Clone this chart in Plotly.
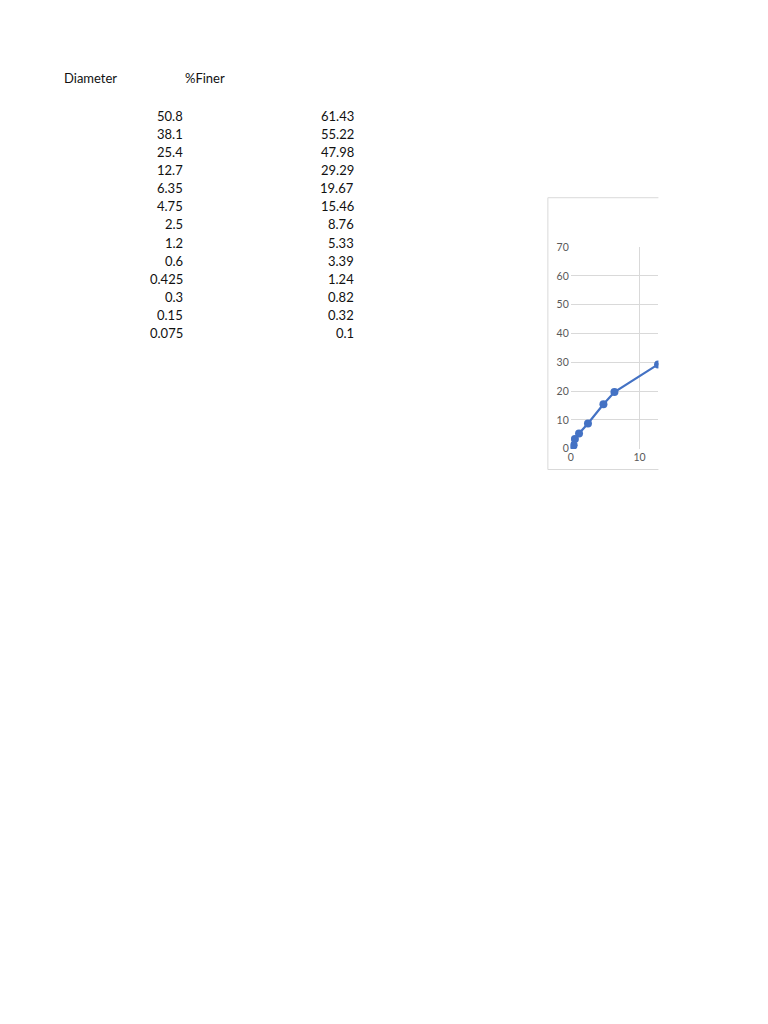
import plotly.graph_objects as go

# sieve data as printed on the sheet
diameter = [50.8, 38.1, 25.4, 12.7, 6.35, 4.75, 2.5, 1.2, 0.6, 0.425, 0.3, 0.15, 0.075]
diameter_labels = ["50.8", "38.1", "25.4", "12.7", "6.35", "4.75", "2.5", "1.2", "0.6", "0.425", "0.3", "0.15", "0.075"]
finer = [61.43, 55.22, 47.98, 29.29, 19.67, 15.46, 8.76, 5.33, 3.39, 1.24, 0.82, 0.32, 0.1]
finer_labels = ["61.43", "55.22", "47.98", "29.29", "19.67", "15.46", "8.76", "5.33", "3.39", "1.24", "0.82", "0.32", "0.1"]
headers = ["Diameter", "%Finer"]

W, H = 768, 1024
FONT = "Lato"


def px(x):
    return x / W


def py(y):
    return 1 - y / H


fig = go.Figure()
fig.add_trace(go.Scatter(
    x=diameter, y=finer, mode="lines+markers",
    line=dict(color="#4472C4", width=2.2),
    marker=dict(color="#4472C4", size=8),
    showlegend=False,
))

# sheet cells (nudged a few px to line up with the printout)
annotations = []
annotations.append(dict(x=px(59), y=py(73), text=headers[0], xanchor="left"))
annotations.append(dict(x=px(181), y=py(73), text=headers[1], xanchor="left"))
row_h = (335 - 115) / 12
for i in range(len(diameter_labels)):
    yy = py(111 + i * row_h)
    annotations.append(dict(x=px(183), y=yy, text=diameter_labels[i], xanchor="right"))
    annotations.append(dict(x=px(354), y=yy, text=finer_labels[i], xanchor="right"))
for a in annotations:
    a.update(xref="paper", yref="paper", yanchor="middle", showarrow=False,
             font=dict(family=FONT, size=13, color="#111111"))

fig.update_layout(
    width=W, height=H,
    margin=dict(l=0, r=0, t=0, b=0),
    paper_bgcolor="white", plot_bgcolor="white",
    annotations=annotations,
    xaxis=dict(domain=[px(570), px(658)], range=[0, 12.75], dtick=10,
               showgrid=True, gridcolor="#d9d9d9", gridwidth=1, zeroline=False,
               showline=False, ticks="", ticklabelstandoff=1,
               tickfont=dict(family=FONT, size=10.5, color="#595959")),
    yaxis=dict(domain=[py(448), py(244)], range=[0, 70], dtick=10,
               showgrid=True, gridcolor="#d9d9d9", gridwidth=1, zeroline=False,
               showline=False, ticks="", ticklabelstandoff=1,
               tickfont=dict(family=FONT, size=10.5, color="#595959")),
    shapes=[dict(type="path", xref="paper", yref="paper",
                 path=f"M {px(658)} {py(194)} L {px(547)} {py(194)} L {px(547)} {py(469)} L {px(658)} {py(469)}",
                 line=dict(color="#d9d9d9", width=1))],
)

fig.write_html("out.html", config={"displayModeBar": False},
               post_script="document.body.style.margin='0';document.body.style.overflow='hidden';")
